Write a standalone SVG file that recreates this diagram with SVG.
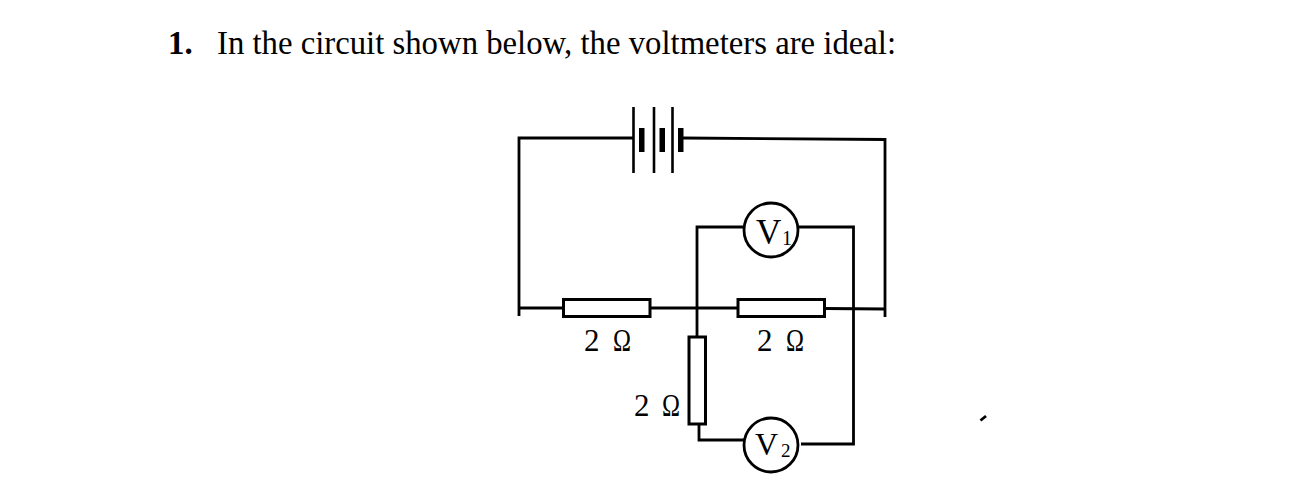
<svg xmlns="http://www.w3.org/2000/svg" width="1290" height="498" viewBox="0 0 1290 498">
<style>
.t{font-family:"Liberation Serif","Times New Roman",serif;fill:#000}
.h{font-size:32.75px}
.l{font-size:31px}
.w{fill:none;stroke:#000;stroke-width:2.8}
.thin{fill:none;stroke:#000;stroke-width:2.6}
.plate{fill:#000}
.box{fill:#fff;stroke:#000;stroke-width:3}
.m{fill:#fff;stroke:#000;stroke-width:2.8}
</style>
<rect width="1290" height="498" fill="#fff"/>
<text class="t h" x="168" y="54" font-weight="bold">1.</text>
<text class="t h" x="217" y="54">In the circuit shown below, the voltmeters are ideal:</text>
<g id="wires">
<path class="w" d="M633 138H519V316"/>
<path class="w" d="M683 138L885 139.500V317"/>
<path class="w" d="M519 308H563M650 308H738M825 308.500L885 309"/>
<path class="w" d="M697 337V227H745M798 227H853.500V444H801"/>
<path class="w" d="M699 425V440H745"/>
</g>
<g id="battery">
<path class="thin" d="M633.500 107V173M654 107V173M672.500 107V173"/>
<rect class="plate" x="639" y="128" width="5.500" height="24"/>
<rect class="plate" x="659.500" y="128" width="5.500" height="24"/>
<rect class="plate" x="678" y="128" width="5.500" height="24"/>
</g>
<g id="r1"><rect class="box" x="563.500" y="299.500" width="86.500" height="17"/><text class="t l" x="584" y="351">2</text><text class="t l" x="613" y="351" textLength="18" lengthAdjust="spacingAndGlyphs">Ω</text></g>
<g id="r2"><rect class="box" x="738" y="299.500" width="86.500" height="17"/><text class="t l" x="757" y="351">2</text><text class="t l" x="786" y="351" textLength="18" lengthAdjust="spacingAndGlyphs">Ω</text></g>
<g id="r3"><rect class="box" x="689" y="337" width="16.500" height="87"/><text class="t l" x="634" y="416">2</text><text class="t l" x="662" y="416" textLength="18" lengthAdjust="spacingAndGlyphs">Ω</text></g>
<g id="v1"><circle class="m" cx="771" cy="230" r="27"/><text class="t" font-size="35" x="756" y="244">V</text><text class="t" font-size="20" x="782" y="245">1</text></g>
<g id="v2"><circle class="m" cx="771" cy="445" r="27"/><text class="t" font-size="32" x="755" y="455">V</text><text class="t" font-size="19" x="781" y="457">2</text></g>
<path class="w" d="M980.500 420.500L986 416"/>
</svg>
